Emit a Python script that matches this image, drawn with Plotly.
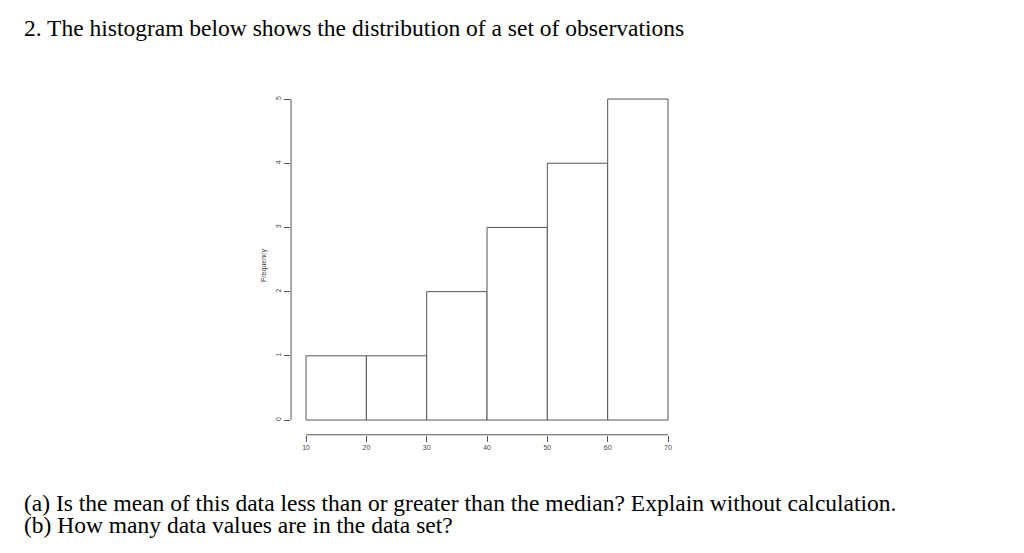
import plotly.graph_objects as go

# bin centres and frequencies
bin_mid = [15, 25, 35, 45, 55, 65]
freq = [1, 1, 2, 3, 4, 5]
x_ticks = [10, 20, 30, 40, 50, 60, 70]
y_ticks = [0, 1, 2, 3, 4, 5]

fig = go.Figure(go.Bar(x=bin_mid, y=freq, width=10, marker=dict(color="white", line=dict(color="#555", width=1))))

serif = "Liberation Serif"
fig.update_layout(
    width=1024, height=553, margin=dict(l=0, r=0, t=0, b=0),
    plot_bgcolor="white", paper_bgcolor="white", showlegend=False,
    xaxis=dict(domain=[0.2764, 0.6592], range=[7.51, 72.49], tickvals=x_ticks,
               ticks="outside", ticklen=6, tickcolor="#555", showgrid=False, zeroline=False,
               tickfont=dict(size=7, color="#444", family="Arial")),
    yaxis=dict(domain=[0.2282, 0.8644], range=[-0.23, 5.25], tickvals=y_ticks,
               ticks="outside", ticklen=6, tickcolor="#555", showgrid=False, zeroline=False,
               tickangle=-90, tickfont=dict(size=7, color="#444", family="Arial")),
)
# R-style axis lines spanning only the tick range
fig.add_shape(type="line", xref="x", yref="y domain", x0=10, x1=70, y0=0, y1=0, line=dict(color="#555", width=1))
fig.add_shape(type="line", xref="x domain", yref="y", x0=0, x1=0, y0=0, y1=5, line=dict(color="#555", width=1))

fig.add_annotation(text="Frequency", xref="paper", yref="paper", x=250/1024, y=1-257/553,
                   textangle=-90, showarrow=False, font=dict(size=7, color="#444", family="Arial"))
fig.add_annotation(text="2. The histogram below shows the distribution of a set of observations",
                   xref="paper", yref="paper", x=14/1024, y=1-20/553, xanchor="left", yanchor="middle",
                   showarrow=False, font=dict(size=23.5, color="black", family=serif))
fig.add_annotation(text="(a) Is the mean of this data less than or greater than the median? Explain without calculation.",
                   xref="paper", yref="paper", x=14/1024, y=1-495/553, xanchor="left", yanchor="middle",
                   showarrow=False, font=dict(size=23.5, color="black", family=serif))
fig.add_annotation(text="(b) How many data values are in the data set?",
                   xref="paper", yref="paper", x=14/1024, y=1-517/553, xanchor="left", yanchor="middle",
                   showarrow=False, font=dict(size=23.5, color="black", family=serif))

fig.write_html("out.html")
